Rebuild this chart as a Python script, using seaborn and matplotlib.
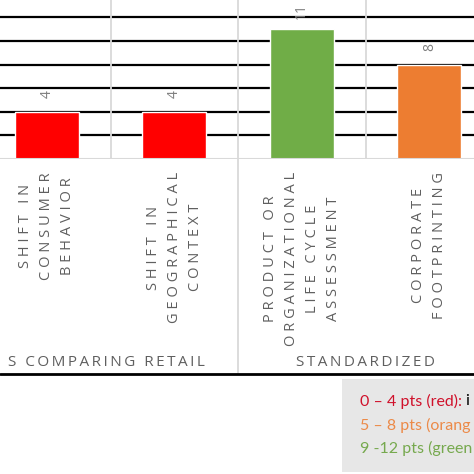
import matplotlib
matplotlib.use("Agg")
import matplotlib.pyplot as plt
import seaborn as sns
import pandas as pd
from matplotlib.lines import Line2D
from matplotlib.patches import Rectangle
from matplotlib import transforms

categories = [
    "SHIFT IN\nCONSUMER\nBEHAVIOR",
    "SHIFT IN\nGEOGRAPHICAL\nCONTEXT",
    "PRODUCT OR\nORGANIZATIONAL\nLIFE CYCLE\nASSESSMENT",
    "CORPORATE\nFOOTPRINTING",
]
scores = [4, 4, 11, 8]
bar_colors = ["#FF0000", "#FF0000", "#70AD47", "#ED7D31"]
group_labels = ["S COMPARING RETAIL", "STANDARDIZED"]
legend_texts = ["0 \u2013 4 pts (red):", "5 \u2013 8 pts (orang", "9 -12 pts (green"]
legend_colors = ["#D0112B", "#EC8A48", "#76A94E"]


def spaced(s, gap="\u2009"):
    # fake letter spacing, line by line
    return "\n".join(gap.join(line) for line in s.split("\n"))


df = pd.DataFrame({"category": categories, "score": scores})

sns.set_style("white")
plt.rcParams["font.family"] = ["Open Sans", "DejaVu Sans"]

fig = plt.figure(figsize=(4.74, 4.74), dpi=100)
# axes spills past the left/right edge like the cropped original
ax = fig.add_axes([-17 / 474, 1 - 159 / 474, 510 / 474, 159 / 474])

sns.barplot(data=df, x="category", y="score", hue="category",
            palette=bar_colors, width=0.5, legend=False, ax=ax,
            saturation=1, zorder=3)

ax.set_xlim(-0.5, 3.5)
ax.set_ylim(0, 159 / 11.8)
ax.set_yticks([2, 4, 6, 8, 10, 12])
ax.yaxis.grid(True, color="black", lw=1.6)
ax.set_axisbelow(True)
ax.set_xticks([])
ax.set_yticklabels([])
ax.tick_params(left=False, bottom=False)
ax.set_xlabel("")
ax.set_ylabel("")
for sp in ax.spines.values():
    sp.set_visible(False)
ax.axhline(0, color="#d9d9d9", lw=1.5, zorder=4)

sep_color = "#d9d9d9"
for xs in [0.5, 2.5]:
    ax.axvline(xs, color=sep_color, lw=1.3, zorder=2)

# value labels
for i, v in enumerate(scores):
    ax.annotate(str(v), (i, v), xytext=(0, 13), textcoords="offset points",
                rotation=90, ha="center", va="center", fontsize=10,
                color="#7f7f7f")

trans = transforms.blended_transform_factory(ax.transData, fig.transFigure)

# long separator between the two groups
fig.add_artist(Line2D([1.5, 1.5], [1 - 373 / 474, 1.0], transform=trans,
                      color=sep_color, lw=1.3))

# category labels
for i, c in enumerate(categories):
    fig.text(i, 1 - 172 / 474, spaced(c, "\u2009\u200a"), transform=trans,
             rotation=90, ha="center", va="top", multialignment="center",
             fontsize=10.5, color="#5f5f5f", linespacing=1.55)

# group labels
fig.text(205 / 474, 1 - 363 / 474, spaced(group_labels[0]), ha="right",
         va="center", fontsize=11, color="#5f5f5f")
fig.text(2.5, 1 - 363 / 474, spaced(group_labels[1]), transform=trans,
         ha="center", va="center", fontsize=11, color="#5f5f5f")

# bottom black rule
fig.add_artist(Line2D([0, 1], [1 - 374 / 474, 1 - 374 / 474],
                      transform=fig.transFigure, color="black", lw=2))

# legend box
fig.add_artist(Rectangle((342 / 474, 1 - 472 / 474), 0.3, (472 - 379) / 474,
                         transform=fig.transFigure, color="#e7e7e7", lw=0))
ys = [401, 425, 448]
for t, col, y in zip(legend_texts, legend_colors, ys):
    fig.text(360 / 474, 1 - y / 474, t, ha="left", va="center",
             fontsize=11.5, color=col, family=["Lato", "DejaVu Sans"])

fig.canvas.draw()
first = fig.texts[-3]
bb = first.get_window_extent().transformed(fig.transFigure.inverted())
fig.text(bb.x1 + 3 / 474, 1 - ys[0] / 474, "i", ha="left", va="center",
         fontsize=11.5, color="black", family=["Lato", "DejaVu Sans"])

fig.savefig("out.png", dpi=100)
